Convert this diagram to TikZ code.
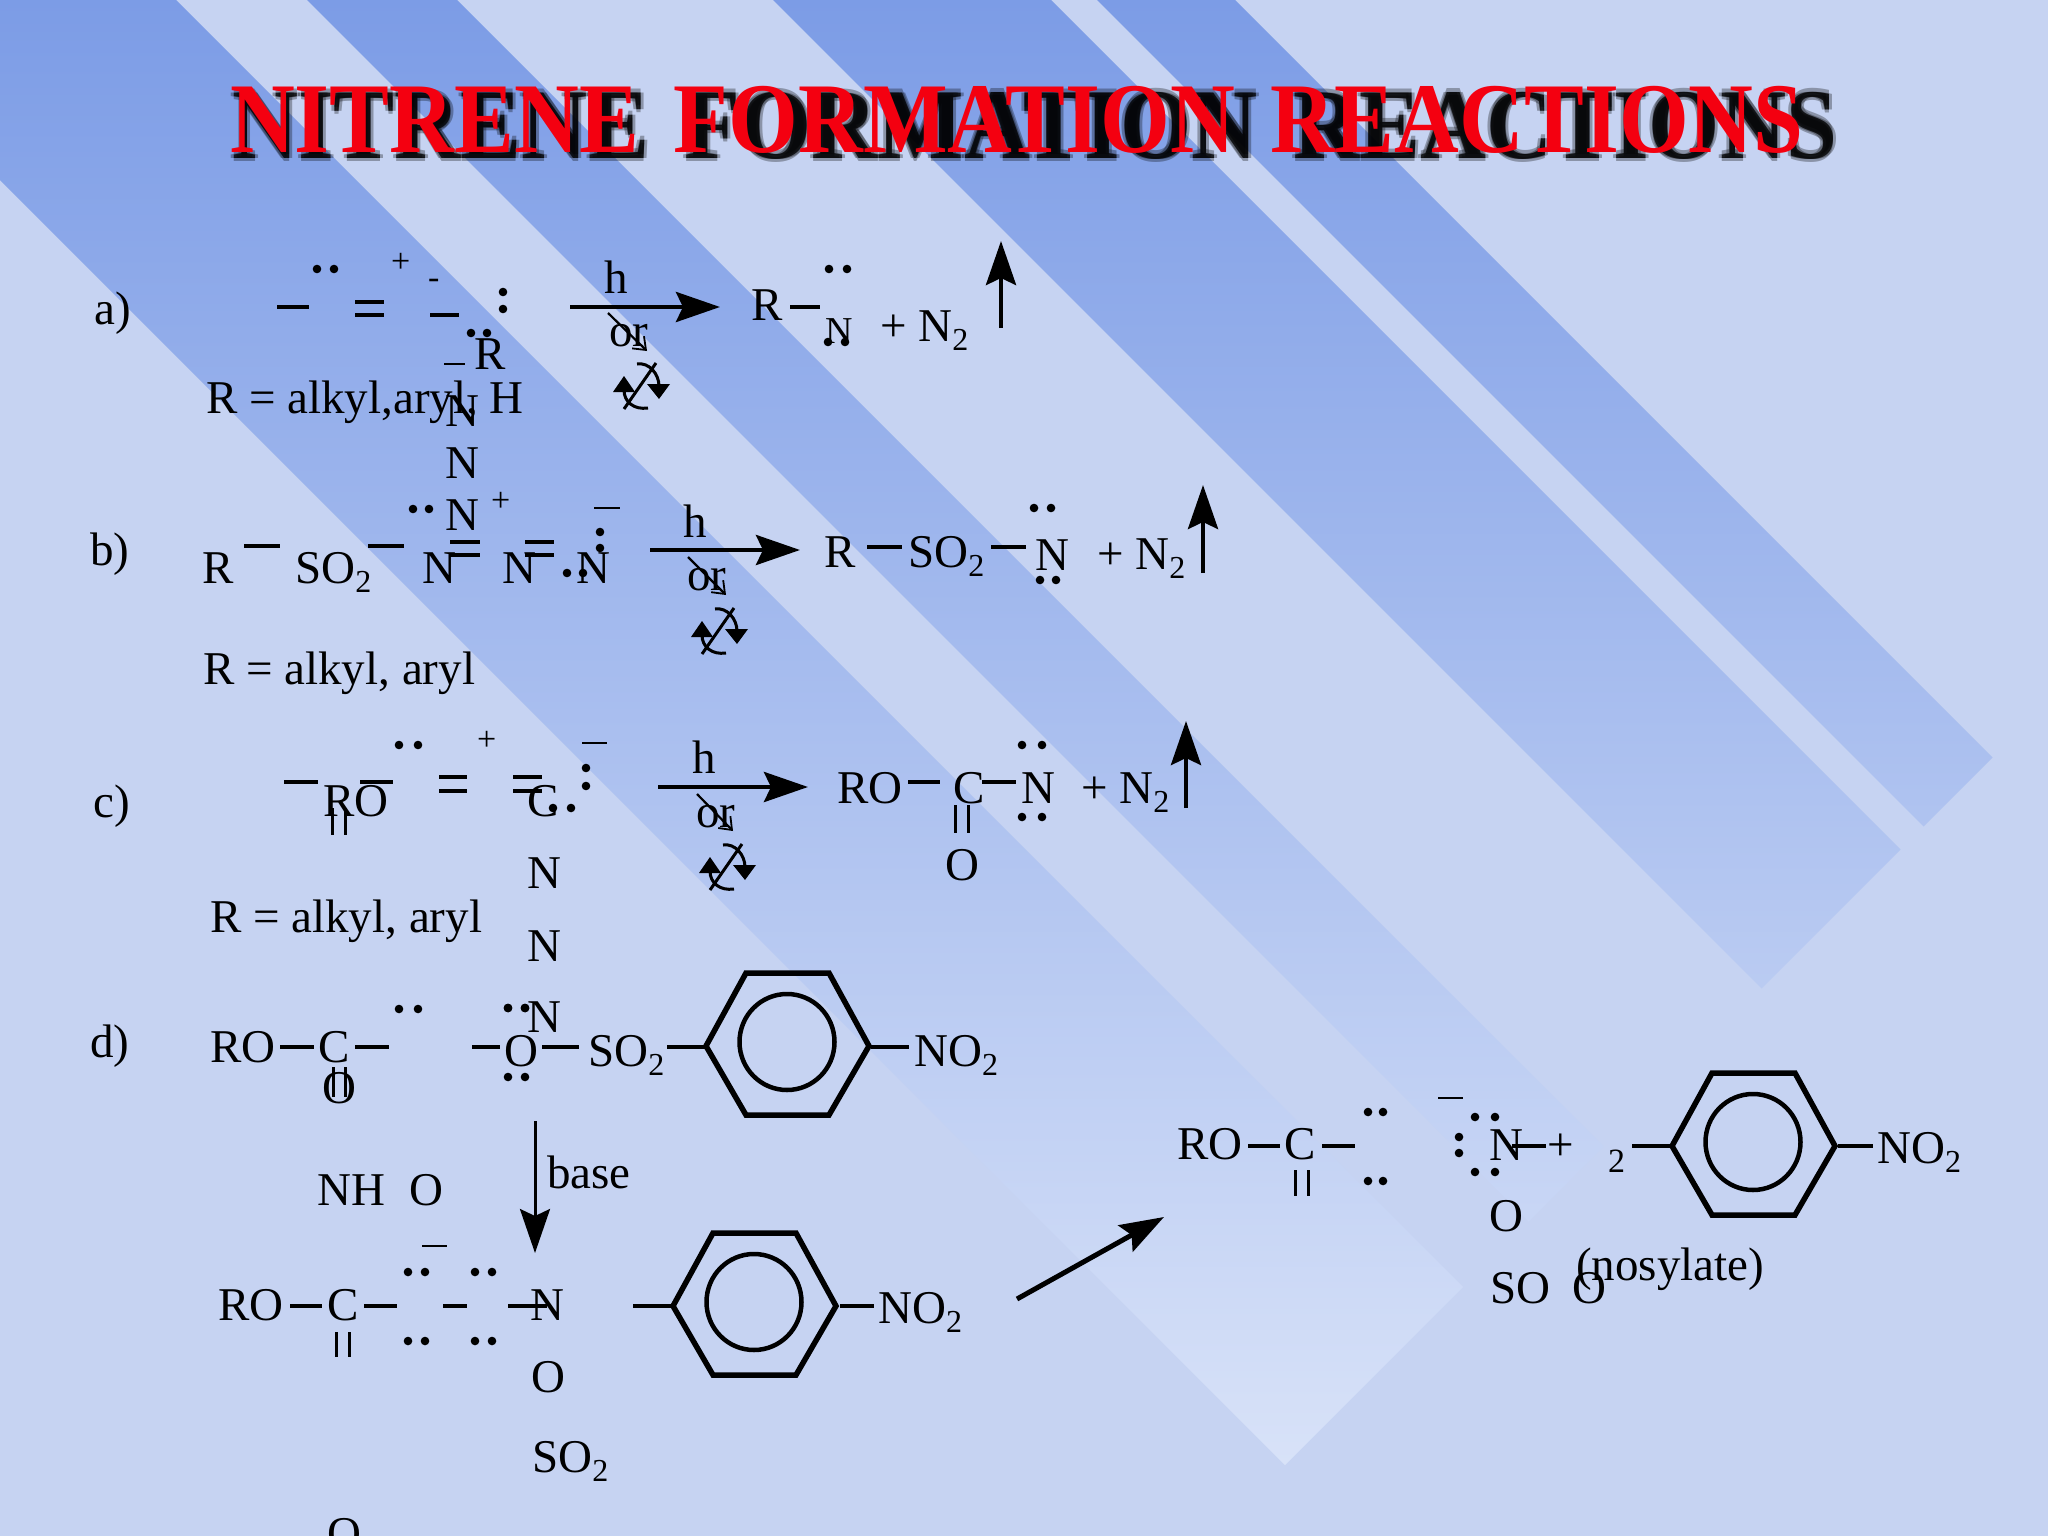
\documentclass[tikz,border=0pt]{standalone}
\usepackage{fontspec}
\setmainfont{Liberation Serif}
\usetikzlibrary{arrows.meta}
\definecolor{basecol}{HTML}{C6D3F2}
\definecolor{bandtop}{HTML}{7C9CE6}
\definecolor{bandend}{HTML}{D8E2F8}
\definecolor{titlered}{HTML}{F40010}
\newcommand{\dnn}[1]{\raisebox{-9pt}{\fontsize{32}{32}\selectfont #1}}
\newcommand{\ttl}{NITRENE\hspace{14pt} FORMATION\hspace{14pt} REACTIONS}
\tikzset{
  txt/.style={anchor=base west,inner sep=0pt,font=\fontsize{47}{50}\selectfont,text=black},
  small/.style={txt,font=\fontsize{34}{36}\selectfont},
  midtxt/.style={txt,font=\fontsize{38}{40}\selectfont},
  bondline/.style={line width=4.6pt,black},
  thinbond/.style={line width=2pt,black},
  hexline/.style={line width=5.5pt,black,line join=miter},
  ringline/.style={line width=4.5pt,black},
  dbl/.style={line width=3pt,black},
  dotfill/.style={fill=black,draw=none},
  bigarrow/.style={line width=4.5pt,black,-{Stealth[length=44pt,width=30pt,inset=7pt]}},
  slasharrow/.style={line width=2.2pt,black,-{Straight Barb[length=11pt,width=17pt,line width=1.8pt]}},
  titletxt/.style={anchor=base west,inner sep=0pt,font=\fontsize{100}{104}\selectfont\bfseries},
}
\newcommand{\dd}[2]{\fill[dotfill] (#1,#2) circle (4.3pt);}
\newcommand{\bnd}[3]{\draw[bondline] (#1,#3) -- (#2,#3);}
\newcommand{\thn}[3]{\draw[thinbond] (#1,#3) -- (#2,#3);}
\newcommand{\vdbl}[4]{\draw[dbl] (#1,#3) -- (#1,#4); \draw[dbl] (#2,#3) -- (#2,#4);}
\newcommand{\ring}[2]{%
  \draw[hexline] (#1-81,#2+4) -- (#1-41,#2-69) -- (#1+42,#2-69) -- (#1+82,#2+4) -- (#1+42,#2+73) -- (#1-41,#2+73) -- cycle;
  \draw[ringline] (#1,#2) circle [x radius=47.5pt,y radius=48pt];}
\newcommand{\cyc}[2]{%
  \begin{scope}[shift={(#1,#2)}]
    \draw[line width=3pt] (15,-23) -- (-17,23);
    \draw[line width=3pt] (-4,-22) .. controls (8,-24) and (18,-12) .. (18,0);
    \draw[line width=3pt] (-17,4) .. controls (-17,16) and (-7,24) .. (7,22);
    \fill (6,-2) -- (29,-2) -- (18,13) -- cycle;
    \fill (-28,6) -- (-6,6) -- (-17,-10) -- cycle;
  \end{scope}}
\begin{document}
\begin{tikzpicture}[x=1pt,y=-1pt]
\useasboundingbox (0,0) rectangle (2048,1536);
\clip (0,0) rectangle (2048,1536);
\fill[basecol] (0,0) rectangle (2048,1536);
\begin{scope}
  \clip (0,0) -- (176,0) -- (1463,1287) -- (1285,1465) -- (0,180) -- cycle
        (307,0) -- (457,0) -- (1603.5,1146.5) -- (1528.5,1221.5) -- cycle
        (773,0) -- (1051,0) -- (1900.5,849.5) -- (1761.5,988.5) -- cycle
        (1097,0) -- (1235,0) -- (1992.5,757.5) -- (1923.5,826.5) -- cycle;
  \shade[top color=bandtop,bottom color=bandend] (0,0) rectangle (2048,1465);
\end{scope}
% title
\foreach \i/\dx/\dy/\op in {a/0/0/.8,b/-3/0/.3,c/3/0/.3,d/0/-3/.3,e/0/3/.3}{
  \node[titletxt,text=black,text opacity=\op,xscale=.915,transform shape] (ts\i) at (232+\dx,158+\dy) {\ttl};
}
\node[titletxt,text=titlered,xscale=.897,transform shape] (title) at (230,153) {\ttl};

% row a
\node[txt] (la) at (94,324) {a)};
\dd{317}{269}\dd{334}{269}
\node[small] (apl) at (391,272) {+};
\node[small] (ami) at (428,288) {-};
\bnd{277}{309}{307}
\bnd{355}{384}{302}\bnd{355}{384}{315}
\bnd{430}{459}{315}
\dd{503}{292}\dd{503}{309}
\dd{471}{333}\dd{487}{333}
\node[txt] (aR) at (474,369) {R};
\thn{444}{465}{364}
\node[txt] (aRe) at (206,413) {R = alkyl,aryl, H};
\node[txt] (aN1) at (445,426) {N};
\node[txt] (aN2) at (445,478) {N};
\node[txt] (aN3) at (445,530) {N};
\node[small] (bpl) at (491,511) {+};
\dd{413}{509}\dd{429}{509}
\node[txt] (ah) at (604,293) {h};
\coordinate (aas) at (570,307); \coordinate (aae) at (720,307);
\draw[bigarrow] (aas) -- (aae);
\node[txt] (aor) at (609,346) {or};
\coordinate (ass) at (608,313); \coordinate (ase) at (647,351);
\draw[slasharrow] (ass) -- (ase);
\cyc{641}{386}
\node[txt] (aPR) at (751,320) {R};
\bnd{790}{820}{307}
\dd{829}{269}\dd{847}{269}
\node[midtxt] (aPN) at (825,343) {N};
\dd{828}{342}\dd{845}{342}
\node[txt] (aN2p) at (880,341) {+ N\dnn{2}};
\coordinate (aus) at (1001,328); \coordinate (aue) at (1001,241);
\draw[bigarrow] (aus) -- (aue);

% row b
\node[txt] (lb) at (90,565) {b)};
\node[txt] (bR) at (202,583) {R};
\bnd{244}{280}{546}
\node[txt] (bS) at (295,583) {SO\dnn{2}};
\bnd{368}{404}{546}
\node[txt] (bN1) at (422,583) {N};
\bnd{450}{480}{542}\bnd{450}{480}{555}
\node[txt] (bN2) at (502,583) {N};
\bnd{525}{554}{542}\bnd{525}{554}{555}
\dd{567}{573}\dd{583}{573}
\node[txt] (bN3) at (576,583) {N};
\dd{600}{532}\dd{600}{548}
\thn{594}{620}{508}
\node[txt] (bh) at (683,537) {h};
\coordinate (bas) at (650,550); \coordinate (bae) at (800,550);
\draw[bigarrow] (bas) -- (bae);
\node[txt] (bor) at (687,590) {or};
\coordinate (bss) at (688,557); \coordinate (bse) at (726,595);
\draw[slasharrow] (bss) -- (bse);
\cyc{719}{631}
\node[txt] (bPR) at (824,567) {R};
\bnd{867}{902}{547}
\node[txt] (bPS) at (908,567) {SO\dnn{2}};
\bnd{991}{1026}{547}
\node[txt] (bPN) at (1035,570) {N};
\dd{1034}{508}\dd{1051}{508}
\dd{1040}{580}\dd{1056}{580}
\node[txt] (bN2p) at (1097,569) {+ N\dnn{2}};
\coordinate (bus) at (1203,573); \coordinate (bue) at (1203,485);
\draw[bigarrow] (bus) -- (bue);
\node[txt] (bRe) at (203,684) {R = alkyl, aryl};

% row c
\node[txt] (lc) at (93,817) {c)};
\bnd{284}{318}{782}
\bnd{360}{393}{782}
\node[txt] (cRO) at (323,816) {RO};
\vdbl{332}{345}{808}{835}
\dd{399}{745}\dd{418}{745}
\node[small] (cpl) at (477,750) {+};
\bnd{439}{467}{777}\bnd{439}{467}{791}
\bnd{513}{542}{777}\bnd{513}{542}{791}
\node[txt] (cC) at (527,816) {C};
\dd{553}{808}\dd{571}{808}
\dd{586}{768}\dd{586}{786}
\thn{582}{607}{743}
\node[txt] (cN1) at (527,888) {N};
\node[txt] (cN2) at (527,961) {N};
\node[txt] (cN3) at (527,1032) {N};
\dd{508}{1008}\dd{525}{1008}
\node[txt] (ch) at (692,773) {h};
\coordinate (cas) at (658,787); \coordinate (cae) at (808,787);
\draw[bigarrow] (cas) -- (cae);
\node[txt] (cor) at (696,827) {or};
\coordinate (css) at (697,794); \coordinate (cse) at (733,831);
\draw[slasharrow] (css) -- (cse);
\cyc{727}{867}
\node[txt] (cPRO) at (837,803) {RO};
\bnd{908}{940}{782}
\node[txt] (cPC) at (953,803) {C};
\bnd{982}{1016}{782}
\node[txt] (cPN) at (1021,803) {N};
\dd{1022}{745}\dd{1042}{745}
\dd{1022}{817}\dd{1042}{817}
\node[txt] (cN2p) at (1081,803) {+ N\dnn{2}};
\coordinate (cus) at (1186,808); \coordinate (cue) at (1186,721);
\draw[bigarrow] (cus) -- (cue);
\vdbl{955}{968}{805}{833}
\node[txt] (cPO) at (945,880) {O};
\node[txt] (cRe) at (210,932) {R = alkyl, aryl};

% row d
\node[txt] (ld) at (90,1057) {d)};
\node[txt] (dRO) at (210,1062) {RO};
\bnd{280}{314}{1047}
\node[txt] (dC) at (318,1062) {C};
\bnd{355}{389}{1047}
\dd{399}{1009}\dd{418}{1009}
\bnd{472}{500}{1047}
\node[txt] (dO) at (504,1066) {O};
\dd{508}{1008}\dd{525}{1008}
\dd{508}{1077}\dd{525}{1077}
\bnd{542}{579}{1047}
\node[txt] (dS) at (588,1066) {SO\dnn{2}};
\bnd{667}{706}{1047}
\ring{787}{1042}
\bnd{871}{909}{1047}
\node[txt] (dNO) at (914,1066) {NO\dnn{2}};
\node[txt] (dOb) at (322,1103) {O};
\vdbl{333}{345}{1067}{1097}
\node[txt] (dNH) at (317,1205) {NH};
\node[txt] (dOc) at (409,1205) {O};
\coordinate (das) at (535,1121); \coordinate (dae) at (535,1253);
\draw[bigarrow,line width=3pt] (das) -- (dae);
\node[txt] (dbase) at (547,1188) {base};

% intermediate
\thn{422}{447}{1246}
\dd{408}{1272}\dd{425}{1272}\dd{475}{1272}\dd{492}{1272}
\dd{408}{1341}\dd{425}{1341}\dd{475}{1341}\dd{492}{1341}
\node[txt] (eRO) at (218,1320) {RO};
\bnd{290}{322}{1306}
\node[txt] (eC) at (327,1320) {C};
\bnd{364}{397}{1306}
\bnd{443}{467}{1306}
\bnd{508}{547}{1306}
\node[txt] (eN) at (530,1320) {N};
\vdbl{336}{349}{1332}{1357}
\node[txt] (eO) at (531,1392) {O};
\node[txt] (eS) at (532,1472) {SO\dnn{2}};
\node[txt] (eOb) at (327,1549) {O};
\bnd{633}{672}{1306}
\ring{754}{1302}
\bnd{840}{874}{1306}
\node[txt] (eNO) at (878,1323) {NO\dnn{2}};
\coordinate (eas) at (1017,1299); \coordinate (eae) at (1164,1217);
\draw[bigarrow,line width=5pt] (eas) -- (eae);

% product
\node[txt] (fRO) at (1177,1159) {RO};
\bnd{1248}{1280}{1146}
\node[txt] (fC) at (1284,1159) {C};
\bnd{1322}{1355}{1146}
\vdbl{1295}{1308}{1170}{1196}
\dd{1368}{1112}\dd{1383}{1112}\dd{1368}{1181}\dd{1383}{1181}
\thn{1438}{1463}{1098}
\dd{1475}{1117}\dd{1495}{1117}\dd{1475}{1172}\dd{1495}{1172}
\dd{1459}{1137}\dd{1459}{1153}
\node[txt] (fN) at (1489,1160) {N};
\bnd{1512}{1546}{1146}
\node[txt] (fpl) at (1547,1160) {+};
\node[small] (f2) at (1608,1172) {2};
\bnd{1632}{1671}{1146}
\ring{1753}{1142}
\bnd{1838}{1873}{1146}
\node[txt] (fNO) at (1877,1163) {NO\dnn{2}};
\node[txt] (fO) at (1489,1231) {O};
\node[txt] (fSO) at (1490,1303) {SO};
\node[txt] (fOb) at (1572,1303) {O};
\node[txt] (fnos) at (1576,1280) {(nosylate)};
\end{tikzpicture}
\end{document}
